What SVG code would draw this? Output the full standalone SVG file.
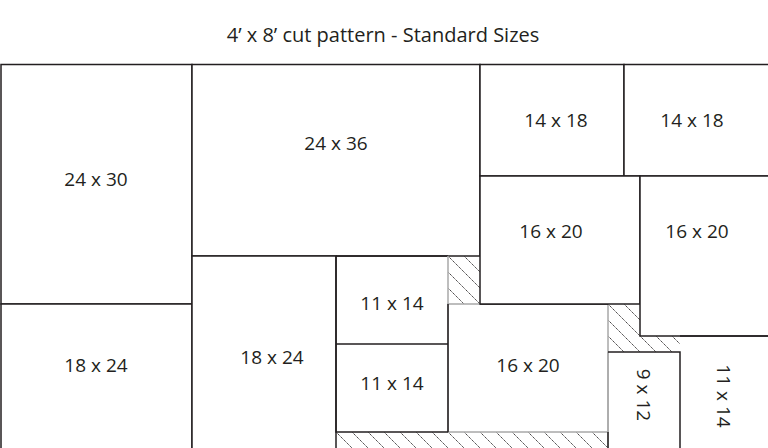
<svg xmlns="http://www.w3.org/2000/svg" width="768" height="448" viewBox="0 0 768 448">
<defs>
<pattern id="hatch" patternUnits="userSpaceOnUse" width="16" height="16">
<line x1="-4" y1="-4" x2="20" y2="20" stroke="#231f20" stroke-width="0.9" stroke-dasharray="1.4 0.7"/>
</pattern>
<style>
.p{fill:#fff;stroke:#231f20;stroke-width:1.5}
.g{fill:none;stroke:#a8a8a8;stroke-width:1.5}
.k{fill:none;stroke:#231f20;stroke-width:1.5}
.h{fill:url(#hatch);stroke:none}
text{font-family:"Open Sans","Noto Sans","Liberation Sans",sans-serif;font-size:19px;fill:#231f20;text-anchor:middle}
.t{font-size:20px}
</style>
</defs>
<rect width="768" height="448" fill="#fff"/>
<text class="t" x="383" y="42">4’ x 8’ cut pattern - Standard Sizes</text>
<g id="waste">
<rect class="h" x="448" y="256" width="32" height="48"/>
<path class="h" d="M608 304H640V336H680V352H608Z"/>
<rect class="h" x="336" y="432" width="272" height="18"/>
</g>
<g id="b16x20c"><rect class="g" x="448" y="304" width="160" height="128"/><path d="M480 304H608M448 304V432" class="k"/><text x="528" y="372">16 x 20</text></g>
<g id="a24x30"><rect class="p" x="1" y="64.5" width="191" height="239.5"/><text x="96" y="186">24 x 30</text></g>
<g id="a18x24"><rect class="p" x="1" y="304" width="191" height="146"/><text x="96" y="372">18 x 24</text></g>
<g id="a24x36"><rect class="p" x="192" y="64.5" width="288" height="191.5"/><text x="336" y="150">24 x 36</text></g>
<g id="b18x24"><rect class="p" x="192" y="256" width="144" height="194"/><text x="272" y="364">18 x 24</text></g>
<g id="c11x14a"><path d="M336 256H448M336 256V344M336 344H448" class="k"/><path d="M448 256V304" class="g"/><text x="392" y="310">11 x 14</text></g>
<g id="c11x14b"><path d="M336 344V432H448" class="k"/><text x="392" y="390">11 x 14</text></g>
<g id="d14x18a"><rect class="p" x="480" y="64.5" width="144" height="111.5"/><text x="556" y="127">14 x 18</text></g>
<g id="d14x18b"><rect class="p" x="624" y="64.5" width="146" height="111.5"/><text x="692" y="127">14 x 18</text></g>
<g id="e16x20a"><rect class="p" x="480" y="176" width="160" height="128"/><text x="551" y="238">16 x 20</text></g>
<g id="e16x20b"><rect class="p" x="640" y="176" width="130" height="160"/><text x="697" y="238">16 x 20</text></g>
<g id="f9x12"><path d="M608 352V450" class="g"/><path d="M608 352H680V450" class="k"/><text transform="translate(644 395) rotate(90)" y="7">9 x 12</text></g>
<g id="f11x14"><path d="M680 336H770" class="k"/><text transform="translate(724 396) rotate(90)" y="7">11 x 14</text></g>
<path d="M608 432V450" class="k"/>
</svg>
